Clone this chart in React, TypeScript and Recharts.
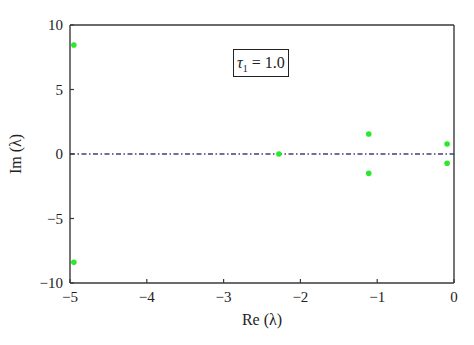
import { ScatterChart, Scatter, XAxis, YAxis, ReferenceLine } from 'recharts';

const reValues = [-4.95, -4.95, -2.28, -1.11, -1.11, -0.09, -0.09];
const imValues = [8.45, -8.4, 0, 1.55, -1.5, 0.78, -0.72];
const xTicks = [-5, -4, -3, -2, -1, 0];
const yTicks = [-10, -5, 0, 5, 10];

const points = reValues.map((re, i) => ({ re, im: imValues[i] }));

const FONT = '"Liberation Serif", "DejaVu Serif", serif';
const AXIS = '#3a3a3a';
const fmt = (v: number) => (v < 0 ? `\u2212${Math.abs(v)}` : `${v}`);

function BottomTick(props: any) {
  const { x, y, payload } = props;
  const base = y - 8;
  return (
    <g>
      <line x1={x} x2={x} y1={base} y2={base - 4} stroke={AXIS} strokeWidth={1.2} />
      <text x={x} y={y} dy="0.71em" textAnchor="middle" fontSize={15} fontFamily={FONT} fill="#222">
        {fmt(payload.value)}
      </text>
    </g>
  );
}

function LeftTick(props: any) {
  const { x, y, payload } = props;
  const base = x + 7;
  return (
    <g>
      <line x1={base} x2={base + 4} y1={y} y2={y} stroke={AXIS} strokeWidth={1.2} />
      <text x={x} y={y} dy="0.35em" textAnchor="end" fontSize={15} fontFamily={FONT} fill="#222">
        {fmt(payload.value)}
      </text>
    </g>
  );
}

function TopTick(props: any) {
  const { x, y } = props;
  return <line x1={x} x2={x} y1={y} y2={y + 4} stroke={AXIS} strokeWidth={1.2} />;
}

function RightTick(props: any) {
  const { x, y } = props;
  return <line x1={x - 4} x2={x} y1={y} y2={y} stroke={AXIS} strokeWidth={1.2} />;
}

function Dot(props: any) {
  const { cx, cy } = props;
  return <circle cx={cx} cy={cy} r={2.8} fill="#2be82b" />;
}

export default function App() {
  return (
    <div style={{ position: 'absolute', left: 0, top: 0, width: 474, height: 345, background: '#fff' }}>
      <ScatterChart width={474} height={345} margin={{ top: 20, right: 15, bottom: 0, left: 0 }}>
        <XAxis
          xAxisId="b"
          dataKey="re"
          type="number"
          domain={[-5, 0]}
          ticks={xTicks}
          height={62}
          tickSize={0}
          tickMargin={8}
          tickLine={false}
          axisLine={{ stroke: AXIS, strokeWidth: 1.4 }}
          tick={<BottomTick />}
          label={(p: any) => {
            const vb = p.viewBox;
            return (
              <text x={vb.x + vb.width / 2} y={325} textAnchor="middle" fontSize={16} fontFamily={FONT} fill="#222">
                Re (λ)
              </text>
            );
          }}
        />
        <XAxis
          xAxisId="t"
          orientation="top"
          type="number"
          domain={[-5, 0]}
          ticks={xTicks}
          height={5}
          tickSize={0}
          tickMargin={0}
          tickLine={false}
          axisLine={{ stroke: AXIS, strokeWidth: 1.4 }}
          tick={<TopTick />}
        />
        <YAxis
          yAxisId="l"
          dataKey="im"
          type="number"
          domain={[-10, 10]}
          ticks={yTicks}
          width={70}
          tickSize={0}
          tickMargin={7}
          tickLine={false}
          axisLine={{ stroke: AXIS, strokeWidth: 1.4 }}
          tick={<LeftTick />}
          label={(p: any) => {
            const vb = p.viewBox;
            const cy = vb.y + vb.height / 2;
            return (
              <text x={21} y={cy} transform={`rotate(-90 21 ${cy})`} textAnchor="middle" fontSize={16} fontFamily={FONT} fill="#222">
                Im (λ)
              </text>
            );
          }}
        />
        <YAxis
          yAxisId="r"
          orientation="right"
          type="number"
          domain={[-10, 10]}
          ticks={yTicks}
          width={5}
          tickSize={0}
          tickMargin={0}
          tickLine={false}
          axisLine={{ stroke: AXIS, strokeWidth: 1.4 }}
          tick={<RightTick />}
        />
        <ReferenceLine
          xAxisId="b"
          yAxisId="l"
          y={0}
          stroke="#40407a"
          strokeWidth={1.3}
          strokeDasharray="5 2.5 1.5 2.5"
        />
        <Scatter
          xAxisId="b"
          yAxisId="l"
          data={points}
          shape={<Dot />}
          isAnimationActive={false}
        />
      </ScatterChart>
      <div
        style={{
          position: 'absolute',
          left: 233,
          top: 49,
          width: 54,
          height: 26,
          border: '1.4px solid #222',
          fontFamily: FONT,
          fontSize: 16,
          lineHeight: '26px',
          textAlign: 'center',
          color: '#222',
          background: '#fff',
        }}
      >
        <i>τ</i>
        <sub style={{ fontSize: 10 }}>1</sub> = 1.0
      </div>
    </div>
  );
}
